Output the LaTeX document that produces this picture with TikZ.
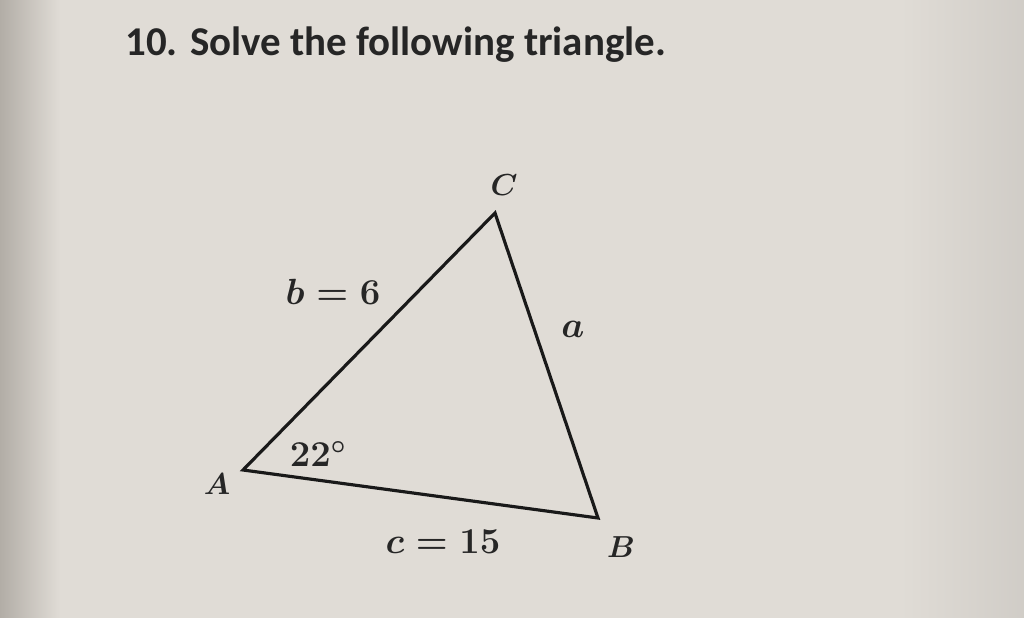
\documentclass[tikz,border=0pt]{standalone}
\usepackage{fontspec}
\newfontfamily\titlefont{Carlito}
\begin{document}
\begin{tikzpicture}[x=0.02cm,y=-0.02cm,
  edge/.style={line width=1.8pt,line join=miter,color=black!90},
  lbl/.style={font=\fontsize{20}{24}\selectfont\boldmath,text=black!85,inner sep=0pt},
  vlbl/.style={font=\fontsize{18}{22}\selectfont\boldmath,text=black!85,inner sep=0pt},
  ttl/.style={font=\titlefont\bfseries\fontsize{23.3}{28}\selectfont,text=black!85,inner sep=0pt,anchor=west}]
\definecolor{paper}{RGB}{224,220,214}
\definecolor{paperdark}{RGB}{178,173,166}
\useasboundingbox (0,0) rectangle (1024,618);
\fill[paper] (0,0) rectangle (1024,618);
\shade[left color=paperdark,right color=paper] (0,0) rectangle (60,618);
\shade[left color=paper,right color=paper!93!black] (900,0) rectangle (1024,618);
\node[ttl] (title) at (125,45) {10. Solve the following triangle.};
\coordinate (A) at (243,470);
\coordinate (B) at (598,518);
\coordinate (C) at (495,213);
\draw[edge] (A) -- (B) -- (C) -- cycle;
\node[vlbl] (lC) at (504,185) {$C$};
\node[vlbl] (lA) at (217,484) {$A$};
\node[vlbl] (lB) at (621,547) {$B$};
\node[lbl] (lb) at (333,292) {$b=6$};
\node[lbl] (la) at (573,329) {$a$};
\node[lbl] (lang) at (318,454) {$22^\circ$};
\node[lbl] (lc) at (443,542) {$c=15$};
\end{tikzpicture}
\end{document}
